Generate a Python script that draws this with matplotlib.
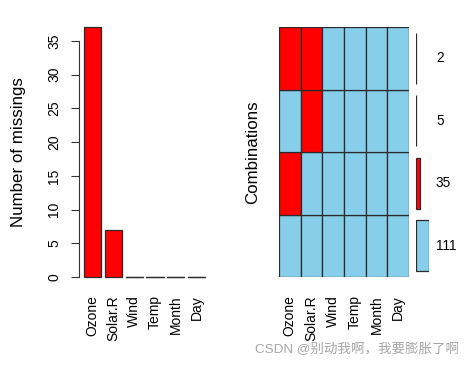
import matplotlib
matplotlib.use("Agg")
import matplotlib.pyplot as plt

plt.rcParams['font.family'] = ['Liberation Sans', 'DejaVu Sans']

# data
variables = ['Ozone', 'Solar.R', 'Wind', 'Temp', 'Month', 'Day']
n_missing = [37, 7, 0, 0, 0, 0]
# combinations, bottom row first (1 = missing)
patterns = [
    [0, 0, 0, 0, 0, 0],
    [1, 0, 0, 0, 0, 0],
    [0, 1, 0, 0, 0, 0],
    [1, 1, 0, 0, 0, 0],
]
counts = [111, 35, 5, 2]

RED = '#FF0000'
BLUE = '#87CEEB'
EDGE = '#2a2a2a'
W, H = 474, 365

fig = plt.figure(figsize=(W / 100, H / 100), dpi=100)

def px_axes(x0, y0, x1, y1):
    # pixel box (top-left origin) -> figure axes
    return fig.add_axes([x0 / W, (H - y1) / H, (x1 - x0) / W, (y1 - y0) / H])

# Left: bar chart of missings
ax1 = px_axes(79.2, 17.5, 210, 287)
pos = [0.7 + 1.2 * i for i in range(len(variables))]
ax1.bar(pos, n_missing, width=1.0, color=RED, edgecolor=EDGE, linewidth=0.9)
for i, v in enumerate(n_missing):
    if v == 0:
        ax1.plot([pos[i] - 0.5, pos[i] + 0.5], [0, 0], color=EDGE, lw=0.9)
ax1.set_xlim(-0.08, 7.48)
ax1.set_ylim(-1.48, 38.48)
for s in ['top', 'right', 'bottom']:
    ax1.spines[s].set_visible(False)
ax1.spines['left'].set_bounds(0, 35)
ax1.spines['left'].set_color('#333333')
ax1.set_yticks(range(0, 36, 5))
ax1.set_yticklabels([str(v) for v in range(0, 36, 5)], rotation=90, va='center')
ax1.tick_params(axis='y', length=5.8, width=0.8, pad=7, labelsize=10, color='#333333')
ax1.set_xticks(pos)
ax1.set_xticklabels(variables, rotation=90)
ax1.tick_params(axis='x', length=0, pad=6, labelsize=10)
ax1.set_facecolor('none')
fig.text(19 / W, 1 - 152 / H, 'Number of missings', rotation=90,
         ha='center', va='center', fontsize=12.2)

# Right: combination grid
ax2 = px_axes(279, 27, 409, 277)
for r, pat in enumerate(patterns):
    for c, m in enumerate(pat):
        ax2.add_patch(plt.Rectangle((c, r), 1, 1, facecolor=RED if m else BLUE,
                                    edgecolor=EDGE, linewidth=0.9))
ax2.set_xlim(0, len(variables))
ax2.set_ylim(0, len(patterns))
for s in ax2.spines.values():
    s.set_visible(False)
ax2.set_yticks([])
ax2.set_xticks([c + 0.5 for c in range(len(variables))])
ax2.set_xticklabels(variables, rotation=90)
ax2.tick_params(axis='x', length=0, pad=13, labelsize=10)
fig.text(253 / W, 1 - 152 / H, 'Combinations', rotation=90,
         ha='center', va='center', fontsize=12.2)

# Right side: frequency bars
ax3 = px_axes(415.7, 27, 429.4, 277)
bar_cols = [BLUE, RED, RED, RED]
ax3.barh([r + 0.5 for r in range(len(counts))], counts, height=0.82,
         color=bar_cols, edgecolor=EDGE, linewidth=0.9)
ax3.set_xlim(0, max(counts))
ax3.set_ylim(0, len(counts))
ax3.axis('off')
for r, n in enumerate(counts):
    ax3.text(1.48, r + 0.5, str(n), transform=ax3.get_yaxis_transform(),
             ha='left', va='center', fontsize=9.8)

# watermark
fig.text(255 / W, 1 - 350 / H, 'CSDN @别动我啊，我要膨胀了啊', ha='left', va='center',
         fontsize=9.7, color='#a6a6a6',
         family=['Liberation Sans', 'Noto Sans CJK SC'])

fig.savefig('out.png', dpi=100)
